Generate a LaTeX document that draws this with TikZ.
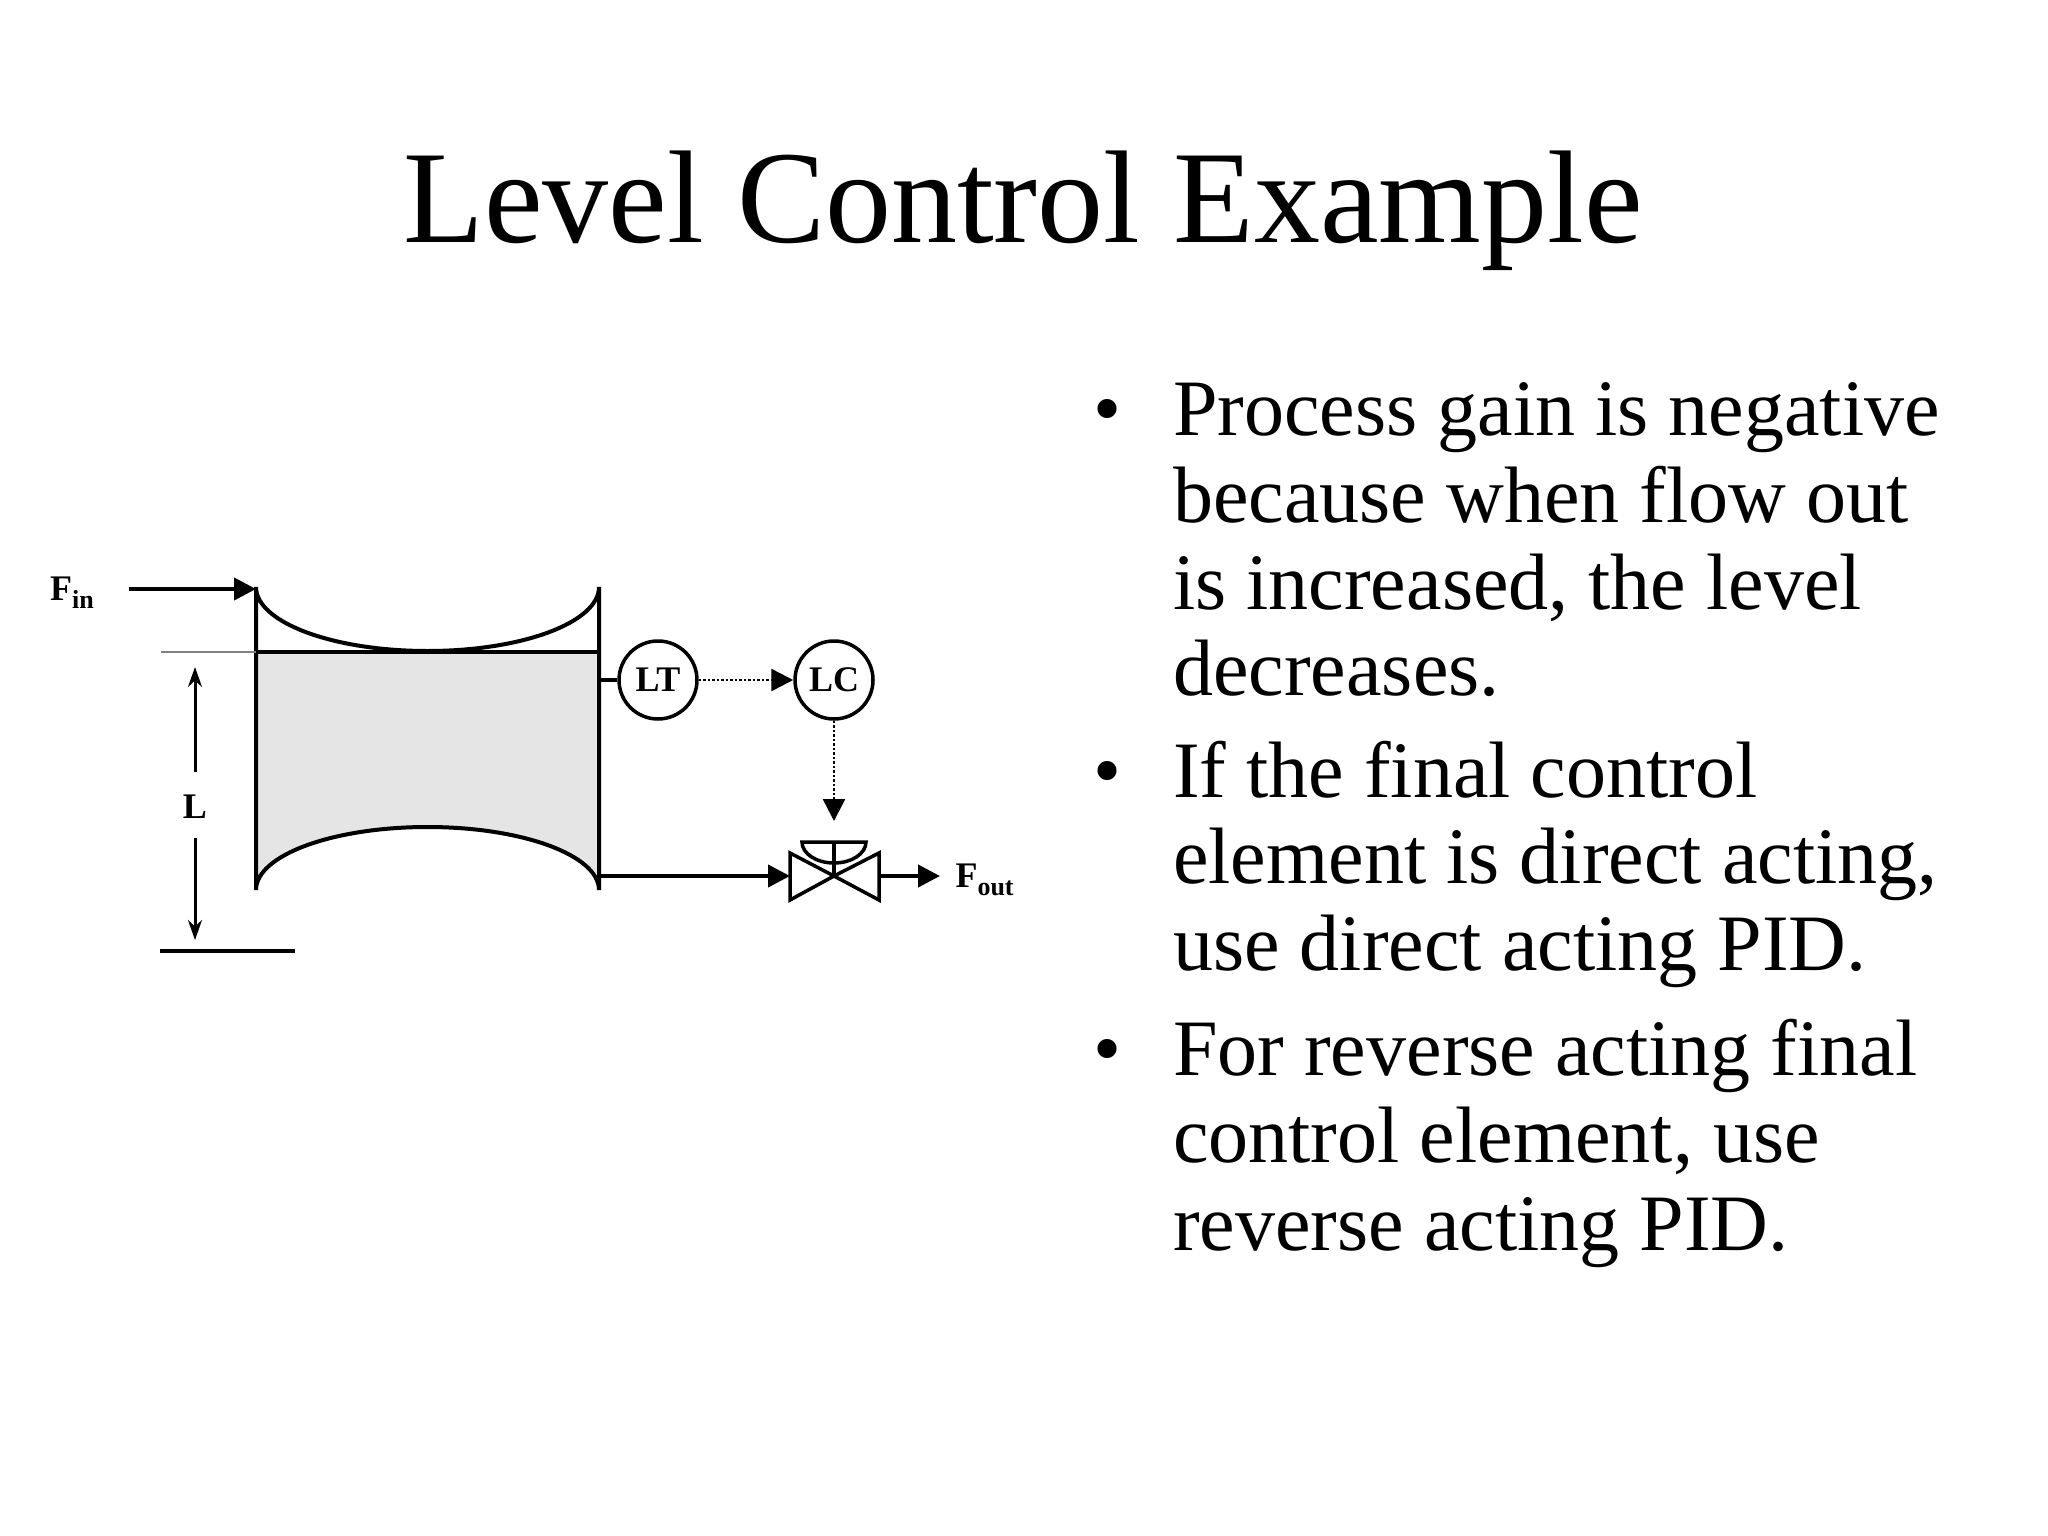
\documentclass[tikz,border=0pt]{standalone}
\usepackage{fontspec}
\setmainfont{Liberation Serif}
\usetikzlibrary{arrows.meta}
\begin{document}
\begin{tikzpicture}[x=1pt,y=-1pt,
  ln/.style={line width=4pt},
  arr/.style={line width=4pt,-{Triangle[length=22pt,width=22pt]}},
  dotarr/.style={line width=2.5pt,dotted,-{Triangle[length=22pt,width=22pt]}},
  inst/.style={circle,draw,line width=3.5pt,minimum size=78pt,inner sep=0pt,font=\fontsize{36}{36}\selectfont\bfseries},
  lbl/.style={font=\fontsize{36}{36}\selectfont\bfseries},
  body/.style={anchor=base west,inner sep=0pt,font=\fontsize{80}{80}\selectfont}]
\useasboundingbox (0,0) rectangle (2048,1536);
\node[inner sep=0pt,anchor=base,font=\fontsize{132}{132}\selectfont] (title) at (1023,242) {Level Control Example};
% tank
\fill[gray!20] (256,652) -- (599,652) -- (599,890) arc[start angle=0,end angle=-180,x radius=171.5,y radius=63] -- cycle;
\draw[ln] (256,890) -- (256,587) arc[start angle=180,end angle=0,x radius=171.5,y radius=64] -- (599,890) arc[start angle=0,end angle=-180,x radius=171.5,y radius=63];
\draw[ln] (256,652) -- (599,652);
\coordinate (tin) at (256,589);
\coordinate (fstart) at (129,589);
\draw[arr] (fstart) -- (tin);
\node[lbl,anchor=base] (fin) at (72,600) {F\raisebox{-8pt}{\fontsize{26}{26}\selectfont in}};
% level markers
\coordinate (lvA) at (161,652); \coordinate (lvB) at (256,652);
\draw[line width=1.2pt,gray] (lvA) -- (lvB);
\coordinate (btA) at (160,951); \coordinate (btB) at (295,951);
\draw[ln] (btA) -- (btB);
\node[font=\fontsize{36}{36}\selectfont\bfseries] (L) at (195,807) {L};
\coordinate (lt1) at (195,667); \coordinate (lb1) at (195,940);
\draw[line width=3pt,-{Stealth[length=20pt,width=14pt]}] (195,772) -- (lt1);
\draw[line width=3pt,-{Stealth[length=20pt,width=14pt]}] (195,838) -- (lb1);
% instruments
\node[inst] (LT) at (658,680) {LT};
\node[inst] (LC) at (834,680) {LC};
\coordinate (tk) at (599,680);
\draw[ln] (tk) -- (LT.west);
\draw[dotarr] (LT.east) -- (LC.west);
% valve
\coordinate (vc) at (834,876);
\draw[line width=3.5pt,fill=white] (790,853) -- (790,900) -- (vc) -- cycle;
\draw[line width=3.5pt,fill=white] (879,853) -- (879,900) -- (vc) -- cycle;
\coordinate (vtop) at (834,842);
\draw[line width=3.5pt] (vc) -- (vtop);
\draw[line width=3.5pt] (802,842) -- (866,842) arc[start angle=0,end angle=180,x radius=32,y radius=21] -- cycle;
\coordinate (act) at (834,821);
\draw[dotarr] (LC.south) -- (act);
\coordinate (tout) at (599,876); \coordinate (vin) at (790,876);
\draw[arr] (tout) -- (vin);
\coordinate (vout) at (879,876); \coordinate (fend) at (940,876);
\draw[arr] (vout) -- (fend);
\node[lbl,anchor=base west] (fout) at (952,887) {F\raisebox{-8pt}{\fontsize{26}{26}\selectfont out}};
% bullets
\foreach \y in {435,797,1075} \node[body] at (1093,\y) {•};
\node[body] (t1) at (1173,435) {Process gain is negative};
\node[body] at (1173,522) {because when flow out};
\node[body] at (1173,609) {is increased, the level};
\node[body] at (1173,695) {decreases.};
\node[body] (t2) at (1173,797) {If the final control};
\node[body] at (1173,883) {element is direct acting,};
\node[body] at (1173,970) {use direct acting PID.};
\node[body] (t3) at (1173,1075) {For reverse acting final};
\node[body] at (1173,1162) {control element, use};
\node[body] at (1173,1250) {reverse acting PID.};
\end{tikzpicture}
\end{document}
